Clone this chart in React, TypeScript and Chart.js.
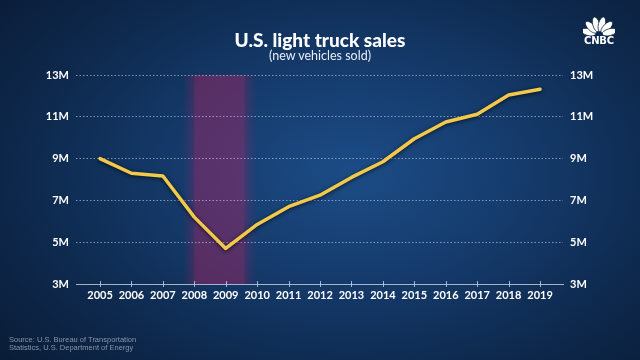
import React, { useEffect, useRef } from "react";
import { Chart, registerables } from "chart.js";

Chart.register(...registerables);

const years = [2005, 2006, 2007, 2008, 2009, 2010, 2011, 2012, 2013, 2014, 2015, 2016, 2017, 2018, 2019];
const salesMillions = [9.0, 8.3, 8.17, 6.2, 4.7, 5.85, 6.7, 7.25, 8.1, 8.85, 9.95, 10.75, 11.12, 12.04, 12.32];
const yTicks = [3, 5, 7, 9, 11, 13];
const recession = [2008, 2009.6];

const FONT = "Lato, 'Open Sans', sans-serif";

const bandPlugin = {
  id: "band",
  beforeDraw(chart: any) {
    const { ctx, chartArea, scales } = chart;
    const x0 = scales.x.getPixelForValue(recession[0]);
    const x1 = scales.x.getPixelForValue(recession[1]);
    const top = chartArea.top;
    const h = chartArea.bottom - chartArea.top;
    ctx.save();
    const glow = 12;
    let g = ctx.createLinearGradient(x0 - glow, 0, x0, 0);
    g.addColorStop(0, "rgba(180,35,100,0)");
    g.addColorStop(1, "rgba(180,35,100,0.25)");
    ctx.fillStyle = g;
    ctx.fillRect(x0 - glow, top, glow, h);
    g = ctx.createLinearGradient(x1, 0, x1 + glow, 0);
    g.addColorStop(0, "rgba(180,35,100,0.25)");
    g.addColorStop(1, "rgba(180,35,100,0)");
    ctx.fillStyle = g;
    ctx.fillRect(x1, top, glow, h);
    ctx.fillStyle = "rgba(180,35,100,0.42)";
    ctx.fillRect(x0, top, x1 - x0, h);
    ctx.restore();
  },
  afterDraw(chart: any) {
    const { ctx, chartArea, scales } = chart;
    ctx.save();
    ctx.strokeStyle = "rgba(200,212,230,0.8)";
    ctx.lineWidth = 1;
    for (const y of years) {
      const x = Math.round(scales.x.getPixelForValue(y)) + 0.5;
      ctx.beginPath();
      ctx.moveTo(x, chartArea.bottom - 3);
      ctx.lineTo(x, chartArea.bottom + 3);
      ctx.stroke();
    }
    ctx.restore();
  },
};

const shadowPlugin = {
  id: "lineShadow",
  beforeDatasetsDraw(chart: any) {
    const ctx = chart.ctx;
    ctx.save();
    ctx.shadowColor = "rgba(0,0,0,0.7)";
    ctx.shadowBlur = 4;
    ctx.shadowOffsetX = 0;
    ctx.shadowOffsetY = 1;
  },
  afterDatasetsDraw(chart: any) {
    chart.ctx.restore();
  },
};

function Peacock() {
  const feathers = [-75, -45, -15, 15, 45, 75];
  return (
    <svg width="32" height="24" viewBox="0 0 32 24" style={{ position: "absolute", left: 583, top: 13 }}>
      {feathers.map((a, i) => (
        <ellipse
          key={i}
          cx="16"
          cy="11"
          rx="3.4"
          ry="7.6"
          fill="#ffffff"
          stroke="#0b1f3a"
          strokeWidth="0.7"
          transform={`rotate(${a} 16 22)`}
        />
      ))}
    </svg>
  );
}

export default function App() {
  const ref = useRef<HTMLCanvasElement>(null);
  useEffect(() => {
    if (!ref.current) return;
    const chart = new Chart(ref.current, {
      type: "line",
      data: {
        datasets: [
          {
            data: years.map((y, i) => ({ x: y, y: salesMillions[i] })),
            borderColor: "#f2c94a",
            borderWidth: 3.5,
            pointRadius: 0,
            tension: 0,
            borderJoinStyle: "round",
            borderCapStyle: "round",
          },
        ],
      },
      options: {
        responsive: false,
        animation: false,
        layout: { padding: { left: 0, right: 0, top: 75, bottom: 56 } },
        plugins: { legend: { display: false }, tooltip: { enabled: false } },
        scales: {
          x: {
            type: "linear",
            min: 2004.236,
            max: 2019.73,
            afterBuildTicks: (s: any) => {
              s.ticks = years.map((v) => ({ value: v }));
            },
            afterFit: (s: any) => {
              s.height = 20;
            },
            grid: { display: false, drawTicks: false },
            border: { display: true, color: "rgba(200,212,230,0.8)", width: 1 },
            ticks: {
              color: "#ffffff",
              padding: 5,
              maxRotation: 0,
              autoSkip: false,
              font: { family: FONT, size: 11, weight: "bold" },
              callback: (v: any) => String(v),
            },
          },
          y: {
            position: "left",
            min: 3,
            max: 13,
            afterBuildTicks: (s: any) => {
              s.ticks = yTicks.map((v) => ({ value: v }));
            },
            afterFit: (s: any) => {
              s.width = 76;
            },
            grid: {
              drawTicks: false,
              color: (c: any) => (c.tick && c.tick.value === 3 ? "rgba(0,0,0,0)" : "rgba(205,215,235,0.6)"),
              lineWidth: 1,
            },
            border: { display: false, dash: [1.5, 2] },
            ticks: {
              color: "#ffffff",
              padding: 7,
              font: { family: FONT, size: 11, weight: "bold" },
              callback: (v: any) => `${v}M`,
            },
          },
          y2: {
            position: "right",
            min: 3,
            max: 13,
            afterBuildTicks: (s: any) => {
              s.ticks = yTicks.map((v) => ({ value: v }));
            },
            afterFit: (s: any) => {
              s.width = 77;
            },
            border: { display: false },
            grid: { display: false, drawTicks: false },
            ticks: {
              color: "#ffffff",
              padding: 7,
              font: { family: FONT, size: 11, weight: "bold" },
              callback: (v: any) => `${v}M`,
            },
          },
        },
      },
      plugins: [bandPlugin, shadowPlugin],
    } as any);
    return () => chart.destroy();
  }, []);

  return (
    <div
      style={{
        position: "absolute",
        left: 0,
        top: 0,
        width: 640,
        height: 360,
        overflow: "hidden",
        background:
          "radial-gradient(ellipse 75% 85% at 55% 48%, #1c4c86 0%, #153b6c 35%, #0e2a4f 65%, #091a33 100%)",
        fontFamily: FONT,
      }}
    >
      <canvas ref={ref} width={640} height={360} style={{ position: "absolute", left: 0, top: 0 }} />
      <div
        style={{
          position: "absolute",
          left: 0,
          width: 640,
          top: 28,
          textAlign: "center",
          color: "#ffffff",
          fontWeight: 900,
          fontSize: 19,
        }}
      >
        U.S. light truck sales
      </div>
      <div
        style={{
          position: "absolute",
          left: 0,
          width: 640,
          top: 48,
          textAlign: "center",
          color: "#e8eef6",
          fontSize: 12.5,
        }}
      >
        (new vehicles sold)
      </div>
      <Peacock />
      <div
        style={{
          position: "absolute",
          left: 579,
          top: 36,
          width: 40,
          textAlign: "center",
          color: "#ffffff",
          fontWeight: 900,
          fontSize: 10,
          lineHeight: "10px",
          letterSpacing: -0.2,
          fontFamily: "'DejaVu Sans', sans-serif",
        }}
      >
        CNBC
      </div>
      <div
        style={{
          position: "absolute",
          left: 9,
          top: 336,
          color: "#8794a8",
          fontSize: 7.5,
          lineHeight: "8px",
          fontFamily: "'Liberation Sans', Arial, sans-serif",
        }}
      >
        Source: U.S. Bureau of Transportation
        <br />
        Statistics, U.S. Department of Energy
      </div>
    </div>
  );
}
